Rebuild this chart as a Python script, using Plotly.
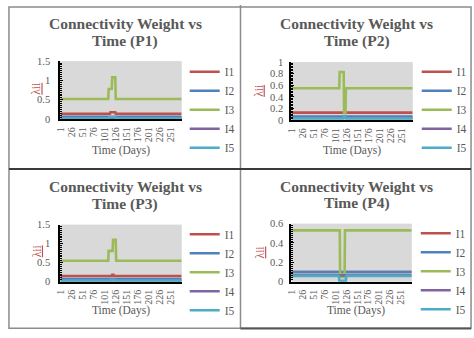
import plotly.graph_objects as go

W, H = 474, 338
DAYS = 275
TICK_DAYS = [1, 26, 51, 76, 101, 126, 151, 176, 201, 226, 251]
SERIES = ["I1", "I2", "I3", "I4", "I5"]
COLORS = ["#C0504D", "#4F81BD", "#9BBB59", "#8064A2", "#4BACC6"]
PANELS = ["P1", "P2", "P3", "P4"]

# Breakpoints: (day, value)
p1_I1 = [(1, 0.14), (113, 0.14), (114, 0.18), (125, 0.18), (126, 0.14), (275, 0.14)]
p1_I2 = [(1, 0.06), (275, 0.06)]
p1_I3 = [(1, 0.52), (109, 0.52), (110, 0.78), (117, 0.78), (118, 1.08), (125, 1.08), (126, 0.52), (275, 0.52)]
p1_I4 = [(1, 0.03), (275, 0.03)]
p1_I5 = [(1, 0.025), (110, 0.025), (111, 0.05), (125, 0.05), (126, 0.025), (275, 0.025)]

p2_I1 = [(1, 0.13), (275, 0.13)]
p2_I2 = [(1, 0.06), (275, 0.06)]
p2_I3 = [(1, 0.55), (109, 0.55), (110, 0.83), (119, 0.83), (120, 0.12), (123, 0.12), (124, 0.55), (275, 0.55)]
p2_I4 = [(1, 0.04), (275, 0.04)]
p2_I5 = [(1, 0.03), (118, 0.03), (119, 0.05), (123, 0.05), (124, 0.03), (275, 0.03)]

p3_I1 = [(1, 0.15), (117, 0.15), (118, 0.18), (121, 0.18), (122, 0.15), (275, 0.15)]
p3_I2 = [(1, 0.07), (275, 0.07)]
p3_I3 = [(1, 0.55), (109, 0.55), (110, 0.81), (119, 0.81), (120, 1.1), (126, 1.1), (127, 0.55), (275, 0.55)]
p3_I4 = [(1, 0.03), (275, 0.03)]
p3_I5 = [(1, 0.03), (114, 0.03), (115, 0.05), (124, 0.05), (125, 0.03), (275, 0.03)]

p4_I1 = [(1, 0.1), (275, 0.1)]
p4_I2 = [(1, 0.1), (275, 0.1)]
p4_I3 = [(1, 0.53), (111, 0.53), (112, 0.05), (122, 0.05), (123, 0.53), (275, 0.53)]
p4_I4 = [(1, 0.065), (275, 0.065)]
p4_I5 = [(1, 0.06), (109, 0.06), (110, 0.01), (125, 0.01), (126, 0.06), (275, 0.06)]

DATA = [
    [p1_I1, p1_I2, p1_I3, p1_I4, p1_I5],
    [p2_I1, p2_I2, p2_I3, p2_I4, p2_I5],
    [p3_I1, p3_I2, p3_I3, p3_I4, p3_I5],
    [p4_I1, p4_I2, p4_I3, p4_I4, p4_I5],
]
Y_RANGES = [[0, 1.5], [0, 1.0], [0, 1.5], [0, 0.6]]
Y_DTICK = [0.5, 0.2, 0.5, 0.2]
Y_MINOR = [0.05, 0.025, 0.05, 0.02]

# layout (pixels)
PLOT_BOX = [(55, 178, 58, 118), (289, 412, 59, 119), (55, 178, 227, 286), (289, 411, 226, 286)]
TITLE_POS = [(121, 19, 37), (355, 19, 37), (121, 188, 205.5), (355, 187.5, 205)]
XTITLE_POS = [(116, 150), (350, 150), (116, 316), (354, 316)]
YTITLE_POS = [(31, 87), (256, 89), (31, 255), (257, 256)]
LEGEND_POS = [(181, 54), (416, 54), (181, 222), (415, 221)]

SERIF = "Liberation Serif, Times New Roman, serif"
GREY = "#595959"


def fx(x):
    return x / W


def fy(y):
    return 1 - y / H


fig = go.Figure()
layout = dict(
    width=W, height=H, margin=dict(l=0, r=0, t=0, b=0),
    paper_bgcolor="white", plot_bgcolor="#D9D9D9",
    annotations=[], shapes=[],
)

for p in range(4):
    sfx = "" if p == 0 else str(p + 1)
    x0, x1, y0, y1 = PLOT_BOX[p]
    for s in range(5):
        pts = DATA[p][s]
        fig.add_trace(go.Scatter(
            x=[d for d, v in pts], y=[v for d, v in pts],
            mode="lines", name=SERIES[s],
            line=dict(color=COLORS[s], width=2.6),
            xaxis="x" + sfx, yaxis="y" + sfx,
            legend="legend" + sfx, hoverinfo="skip",
        ))
    layout["xaxis" + sfx] = dict(
        domain=[fx(x0), fx(x1)], anchor="y" + sfx,
        range=[0.5, DAYS + 0.5], tickmode="array",
        tickvals=TICK_DAYS, ticktext=[str(t) for t in TICK_DAYS],
        tickangle=-90, tickfont=dict(family=SERIF, size=10, color=GREY),
        showgrid=False, zeroline=False, showline=True,
        linecolor="black", linewidth=2, ticks="", ticklabelstandoff=2,
    )
    layout["yaxis" + sfx] = dict(
        domain=[fy(y1), fy(y0)], anchor="x" + sfx,
        range=Y_RANGES[p], dtick=Y_DTICK[p], tick0=0,
        tickfont=dict(family=SERIF, size=10.5, color=GREY),
        showgrid=False, zeroline=False, showline=True,
        linecolor="black", linewidth=2,
        ticks="inside", ticklen=3, tickcolor="black", tickwidth=1,
        minor=dict(ticks="inside", ticklen=2, dtick=Y_MINOR[p], tickcolor="black", tickwidth=1),
        ticklabelstandoff=6 if p in (0, 2) else 4,
    )
    lx, ly = LEGEND_POS[p]
    layout["legend" + sfx] = dict(
        x=fx(lx), y=fy(ly), xanchor="left", yanchor="top",
        font=dict(family=SERIF, size=11.5, color=GREY),
        bgcolor="rgba(0,0,0,0)", borderwidth=0, itemclick=False,
    )
    tx, ty1, ty2 = TITLE_POS[p]
    for txt, ty in (("Connectivity Weight vs", ty1), ("Time (%s)" % PANELS[p], ty2)):
        layout["annotations"].append(dict(
            text=txt, x=fx(tx), y=fy(ty), xref="paper", yref="paper",
            xanchor="center", yanchor="middle", showarrow=False,
            font=dict(family=SERIF, size=15.5, color=GREY, weight="bold"),
        ))
    ax, ay = XTITLE_POS[p]
    layout["annotations"].append(dict(
        text="Time (Days)", x=fx(ax), y=fy(ay), xref="paper", yref="paper",
        xanchor="center", yanchor="middle", showarrow=False,
        font=dict(family=SERIF, size=11.5, color=GREY),
    ))
    yx, yy = YTITLE_POS[p]
    layout["annotations"].append(dict(
        text="<u>λii</u>", x=fx(yx), y=fy(yy), xref="paper", yref="paper",
        xanchor="center", yanchor="middle", showarrow=False, textangle=-90,
        font=dict(family=SERIF, size=11.5, color="#C0504D"),
    ))

# panel frames
layout["shapes"] += [
    dict(type="rect", xref="paper", yref="paper", x0=fx(3), x1=fx(471), y0=fy(334), y1=fy(2),
         line=dict(color="#8C8C8C", width=1.5)),
    dict(type="line", xref="paper", yref="paper", x0=fx(237.5), x1=fx(237.5), y0=fy(334), y1=fy(0),
         line=dict(color="#8C8C8C", width=1.5)),
    dict(type="line", xref="paper", yref="paper", x0=fx(3), x1=fx(471), y0=fy(169.5), y1=fy(169.5),
         line=dict(color="#3A3A3A", width=2)),
    dict(type="line", xref="paper", yref="paper", x0=fx(237.5), x1=fx(471), y0=fy(334.5), y1=fy(334.5),
         line=dict(color="#555555", width=2)),
]

fig.update_layout(**layout)
fig.write_html("out.html")
